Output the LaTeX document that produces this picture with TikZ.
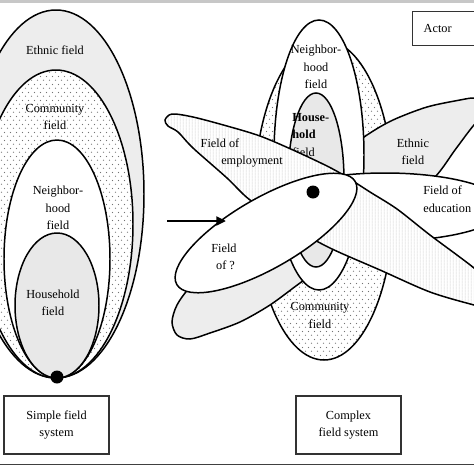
\documentclass[tikz,border=0pt]{standalone}
\usepackage{fontspec}
\setmainfont{Liberation Serif}
\usetikzlibrary{patterns.meta,arrows.meta}
\tikzdeclarepattern{
  name=sdots,
  type=uncolored,
  bottom left={(0pt,0pt)},
  top right={(3.4pt,4.6pt)},
  tile size={(3.4pt,4.6pt)},
  code={
    \fill (0.85pt,1.15pt) circle (0.36pt);
    \fill (2.55pt,3.45pt) circle (0.36pt);
  }
}
\tikzdeclarepattern{
  name=vhatch,
  type=uncolored,
  bottom left={(0pt,0pt)},
  top right={(1.8pt,1.8pt)},
  tile size={(1.8pt,1.8pt)},
  code={
    \fill (0.7pt,0pt) rectangle (1.1pt,1.8pt);
  }
}
\begin{document}
\begin{tikzpicture}[x=0.02cm,y=-0.02cm,
  lbl/.style={font=\fontsize{7}{10}\selectfont, inner sep=0pt, align=center},
  fieldline/.style={line width=0.85pt, draw=black},
  grayfill/.style={fill=black!7},
  housefill/.style={fill=black!9},
  dotfill/.style={preaction={fill=white}, pattern={sdots}, pattern color=black!55},
  hatchfill/.style={preaction={fill=white}, pattern={vhatch}, pattern color=black!10},
  whitefill/.style={fill=white},
  sysbox/.style={draw=black!80, line width=0.8pt, font=\fontsize{7}{10}\selectfont, align=center, inner sep=0pt},
  actordot/.style={fill=black},
]
\useasboundingbox (0,0) rectangle (474,474);
\clip (0,0) rectangle (474,474);
\fill[white] (0,0) rectangle (474,474);
\fill[black!22] (0,0) rectangle (474,2.6);
\coordinate (ruleL) at (0,464.5);
\coordinate (ruleR) at (474,464.5);
\draw[black!75, line width=0.8pt] (ruleL) -- (ruleR);

% ---------- simple field system ----------
\path[fieldline, grayfill] (56,194) ellipse [x radius=88, y radius=184];
\path[fieldline, dotfill] (56,224) ellipse [x radius=77, y radius=154];
\path[fieldline, whitefill] (57,259) ellipse [x radius=53, y radius=119];
\path[fieldline, housefill] (57,305.5) ellipse [x radius=42, y radius=72.5];
\node[lbl] (sEthnic) at (55,50) {Ethnic field};
\node[lbl] (sComm) at (55,117) {Community\\field};
\node[lbl] (sNeigh) at (58,208) {Neighbor-\\hood\\field};
\node[lbl] (sHouse) at (53,303) {Household\\field};
\fill[actordot] (57,377) circle [radius=6.5];
\node[sysbox, minimum width=2.1cm, minimum height=1.16cm] (simplebox) at (56.5,425) {Simple field\\system};

% ---------- complex field system ----------
\path[fieldline, dotfill] (324,200) ellipse [x radius=70, y radius=160];
% ethnic petal (long gray)
\path[fieldline, grayfill] plot[smooth cycle] coordinates {
  (172,322) (177,305) (190,287) (215,262) (250,232) (290,196) (330,162)
  (367,135) (393,120) (427,107) (460,100) (474,98) (485,101) (490,109)
  (484,118) (474,125) (455,150) (435,177) (400,207) (360,238) (330,262)
  (300,283) (270,305) (240,322) (210,333) (190,339) (177,335)};
\path[fieldline, whitefill] (319,155) ellipse [x radius=45, y radius=135];
\path[fieldline, housefill] (316,180) ellipse [x radius=28, y radius=87];
\node[lbl] (cNeigh) at (316,67) {Neighbor-\\hood\\field};
\node[lbl, align=left, anchor=north west] (cHouse) at (292,113) {\textbf{House-}\\\textbf{hold}\\field};
% education petal
\path[fieldline, whitefill] (385,207) ellipse [x radius=120, y radius=34];
% employment petal
\path[fieldline, hatchfill] plot[smooth cycle] coordinates {
  (165,120) (172,114) (193,117) (227,126) (260,136) (293,150) (327,166)
  (345,176) (370,192) (397,209) (430,235) (474,268) (497,290) (507,303)
  (497,310) (474,305) (430,292) (380,270) (330,248) (290,226) (250,200)
  (227,178) (193,148) (178,132) (168,126)};
% field of ?
\path[fieldline, whitefill, rotate around={30:(266,233)}] (266,233) ellipse [x radius=103, y radius=35];
\fill[actordot] (313,192) circle [radius=6.5];

\node[lbl] (cEmp1) at (220,143) {Field of};
\node[lbl] (cEmp2) at (252,162) {employment};
\node[lbl] (cEthnic) at (413,152) {Ethnic\\field};
\node[lbl, align=left, anchor=west] (cEdu) at (423,199) {Field of\\education};
\node[lbl] (cUnk) at (224,257) {Field\\\ of ?};
\node[lbl] (cComm) at (320,315.5) {Community\\field};

\coordinate (arrS) at (167,221);
\coordinate (arrE) at (226,221);
\draw[line width=1.6pt, -{Triangle[length=5.5pt,width=5pt]}] (arrS) -- (arrE);

\node[sysbox, minimum width=2.1cm, minimum height=1.16cm] (complexbox) at (348.5,425) {Complex\\field system};
\node[sysbox, anchor=north west, minimum height=0.68cm, text width=1.8cm, align=left, inner xsep=0.22cm] (actor) at (412,11) {Actor};
\end{tikzpicture}
\end{document}
